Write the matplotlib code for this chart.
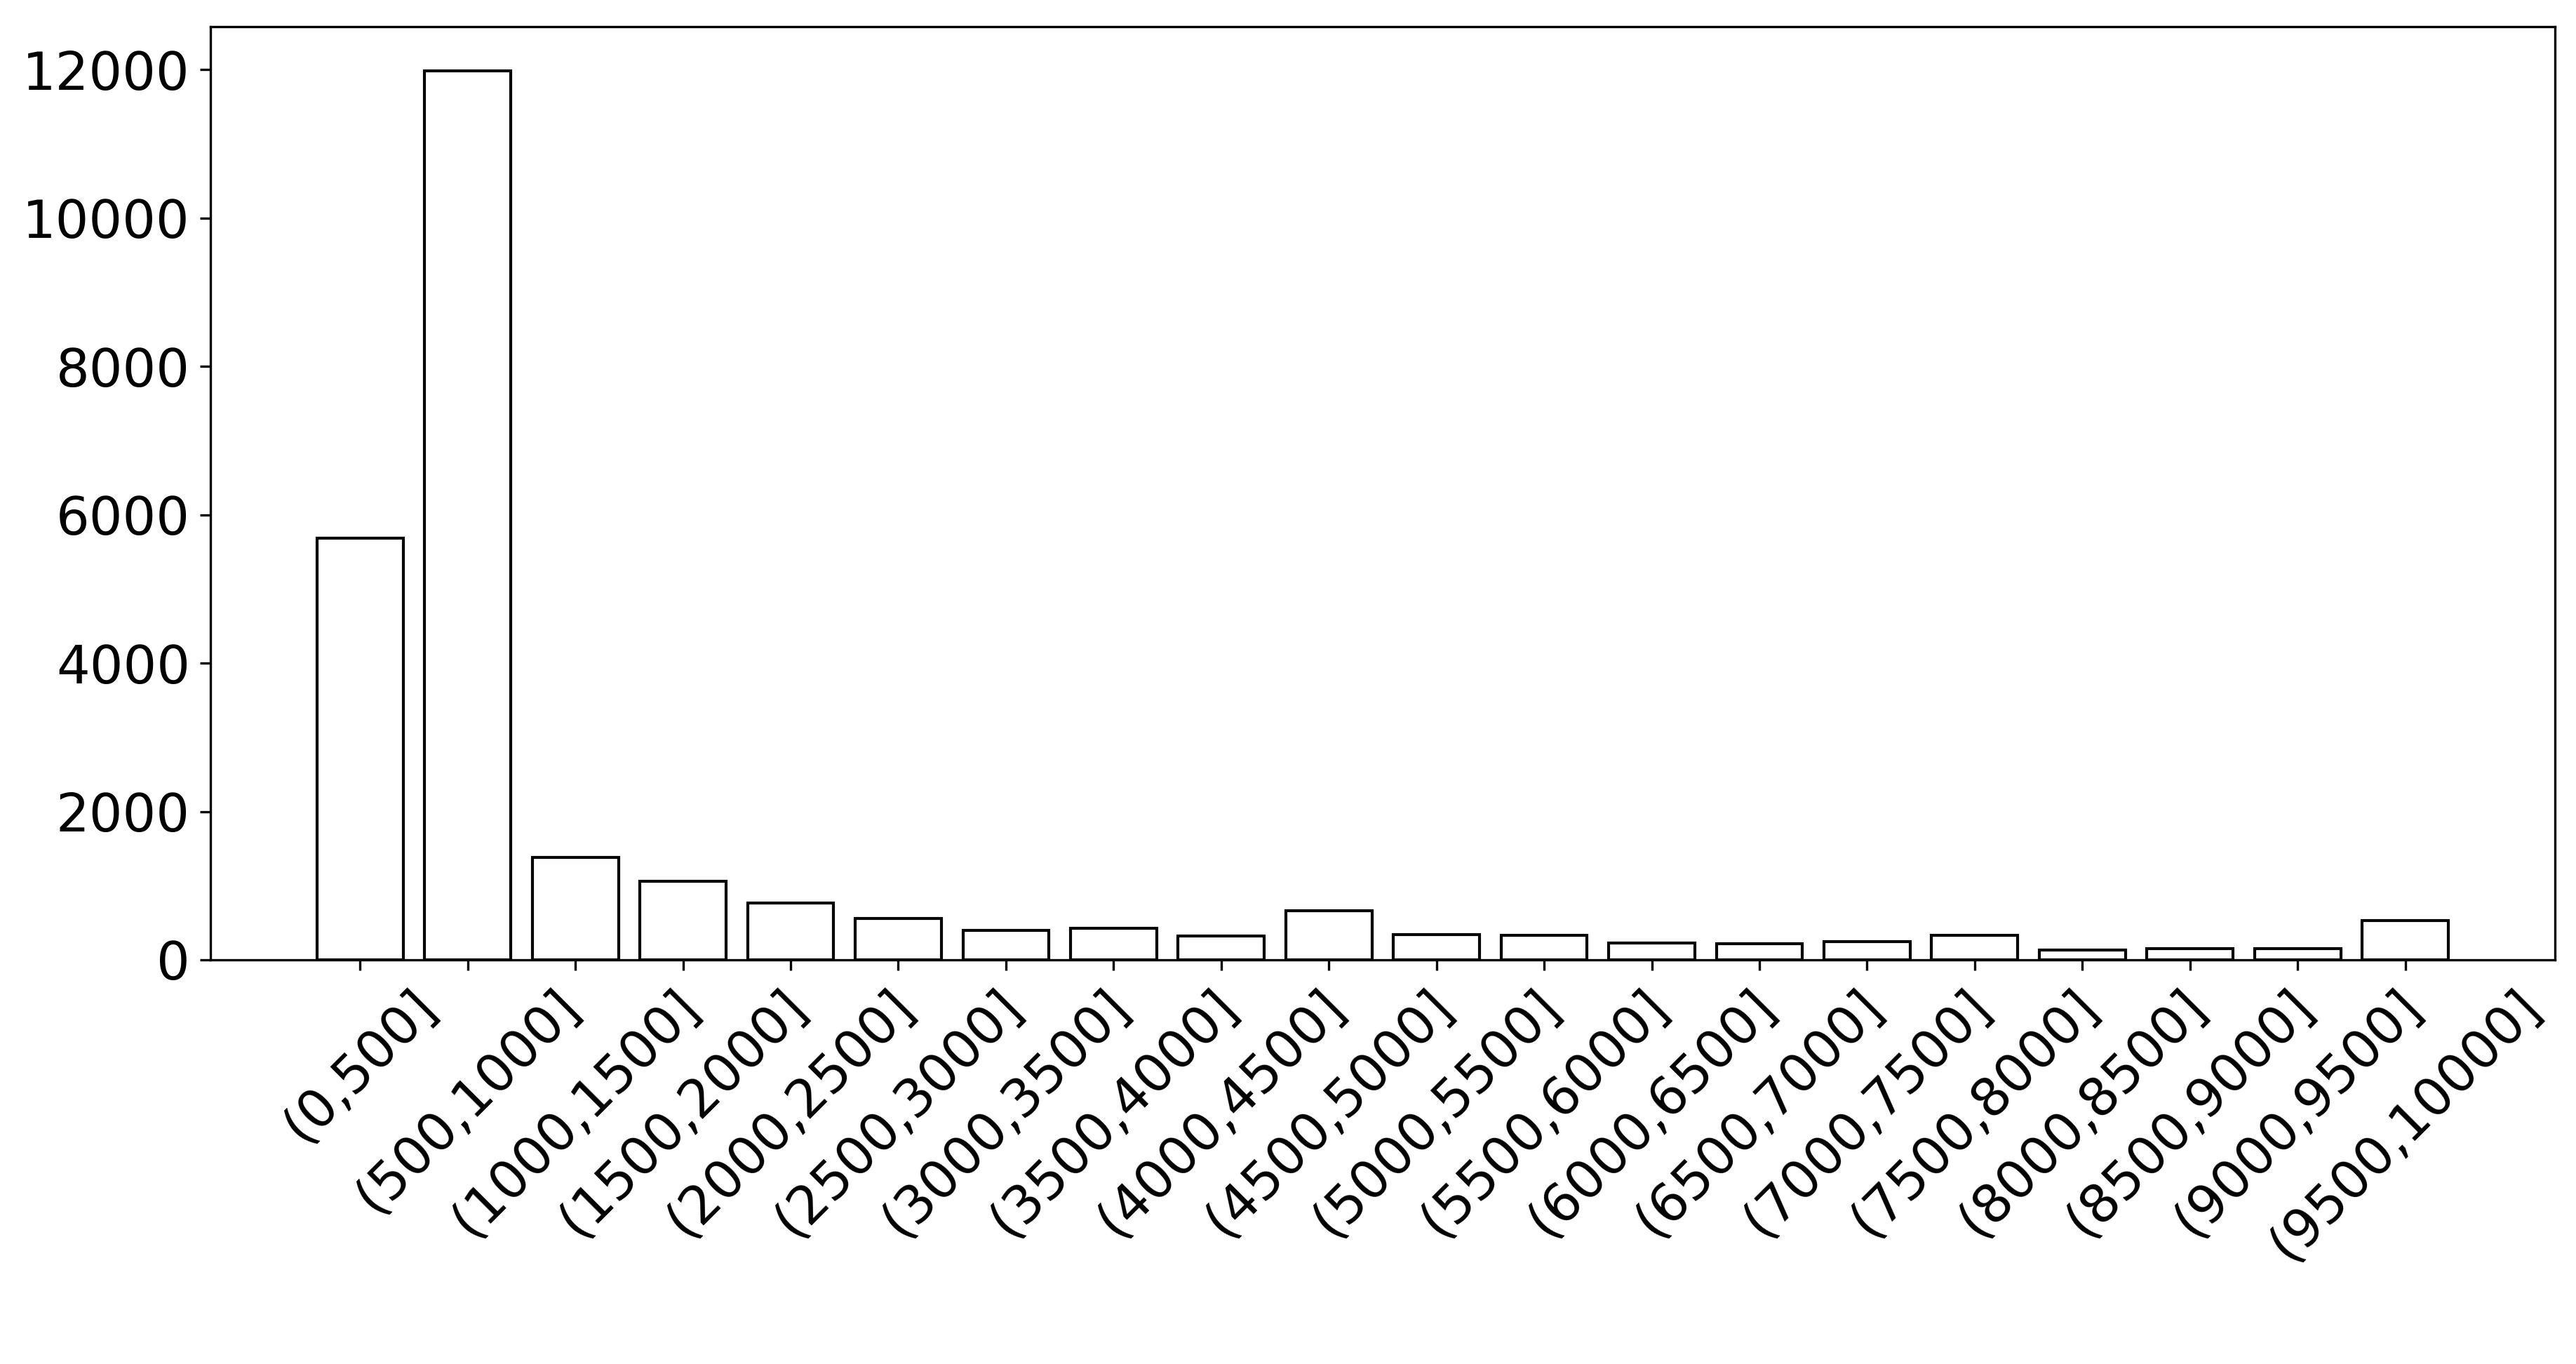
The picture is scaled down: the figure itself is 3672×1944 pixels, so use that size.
import matplotlib
matplotlib.use("Agg")
import matplotlib.pyplot as plt

# bins of 500 from 0 to 10000
bins = ["(0,500]", "(500,1000]", "(1000,1500]", "(1500,2000]", "(2000,2500]",
        "(2500,3000]", "(3000,3500]", "(3500,4000]", "(4000,4500]", "(4500,5000]",
        "(5000,5500]", "(5500,6000]", "(6000,6500]", "(6500,7000]", "(7000,7500]",
        "(7500,8000]", "(8000,8500]", "(8500,9000]", "(9000,9500]", "(9500,10000]"]
counts = [5680, 11980, 1380, 1055, 770, 558, 397, 422, 318, 665,
          337, 332, 224, 214, 246, 328, 136, 154, 151, 526]

fig, ax = plt.subplots(figsize=(12.24, 6.48), dpi=300)
ax.bar(range(len(bins)), counts, width=0.8, color='white', edgecolor='black', linewidth=1)

ax.set_xticks(range(len(bins)))
ax.set_xticklabels(bins, rotation=45, fontsize=18)
ax.tick_params(axis='y', labelsize=18)

plt.subplots_adjust(left=0.0817, right=0.9918, top=0.9805, bottom=0.2963)
plt.savefig("out.png", dpi=300)
